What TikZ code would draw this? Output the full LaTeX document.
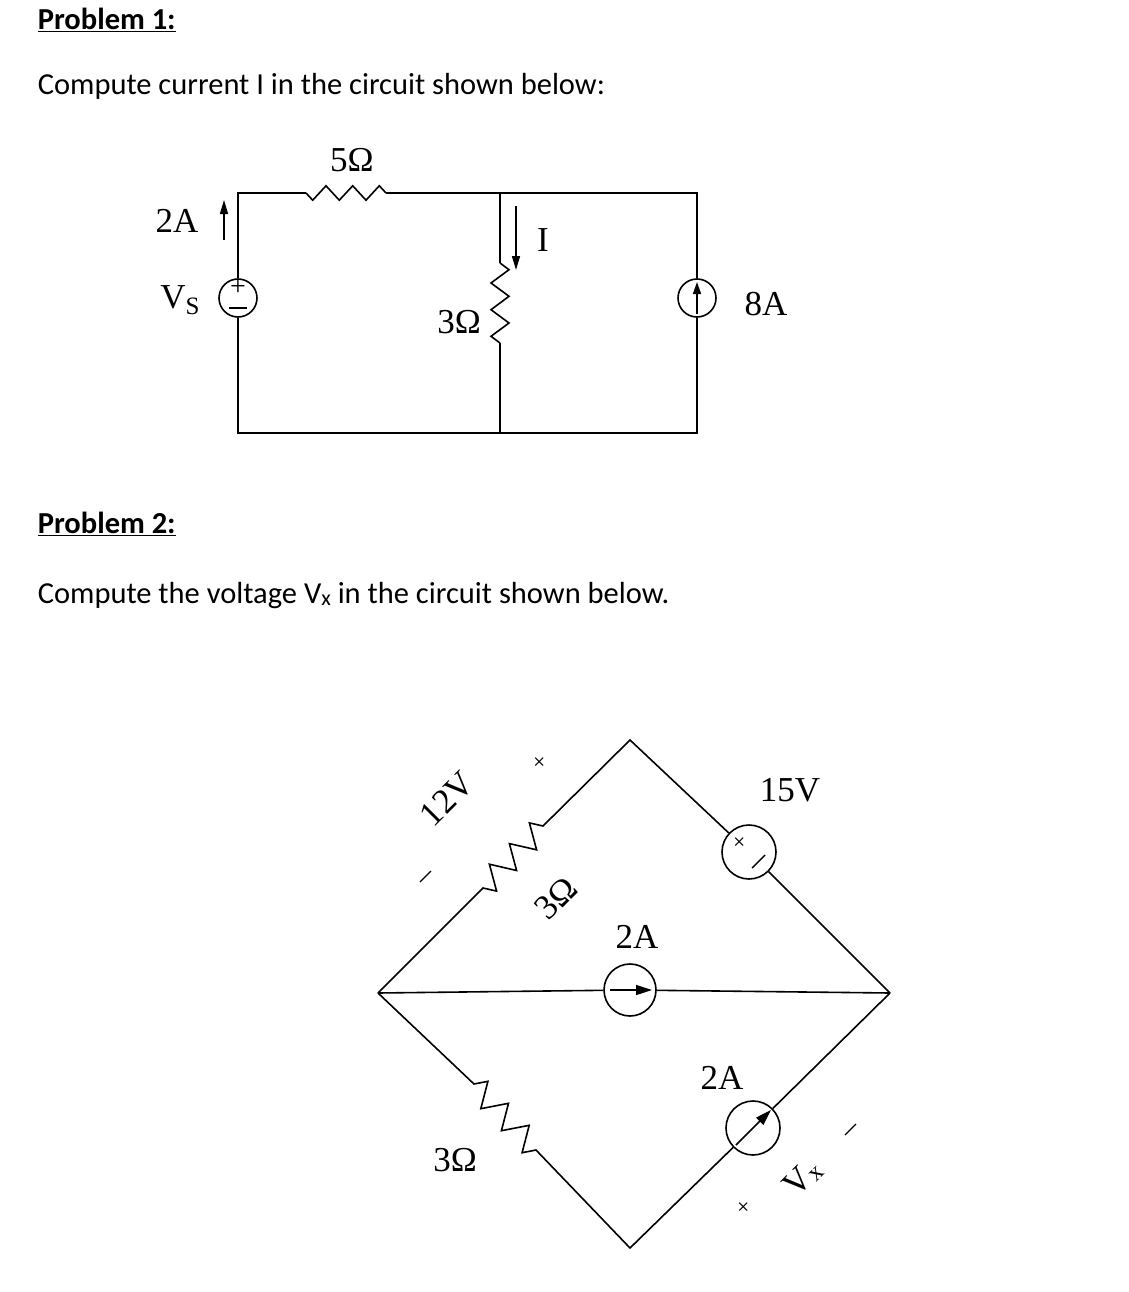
\documentclass[tikz,border=0pt]{standalone}
\usepackage{fontspec}
\setmainfont{Liberation Serif}
\newfontfamily\calfont{Carlito}
\usetikzlibrary{arrows.meta}
\begin{document}
\begin{tikzpicture}[x=1pt,y=-1pt,line width=1.6pt,line join=miter,
  zz/.pic={\draw[line width=1.6pt] (0,0) -- (6.7,9) -- (20,-9) -- (33.3,9) -- (46.7,-9) -- (60,9) -- (73.3,-9) -- (80,0);},
  src/.style={circle,draw,line width=1.6pt,minimum size=#1,inner sep=0pt},
  lab/.style={font=\fontsize{35}{35}\selectfont,inner sep=0pt},
  txt/.style={font=\calfont\fontsize{30.5}{30.5}\selectfont,anchor=west,inner sep=0pt},
  head/.style={font=\calfont\bfseries\fontsize{30.5}{30.5}\selectfont,anchor=west,inner sep=0pt}]
\useasboundingbox (0,0) rectangle (1128,1292);
\node[head] (h1) at (37,20) {\underline{Problem 1:}};
\node[txt] (t1) at (37,86) {Compute current I in the circuit shown below:};
\node[head] (h2) at (37,524) {\underline{Problem 2:}};
\node[txt] (t2) at (37,596) {Compute the voltage V\raisebox{-2pt}{\fontsize{22}{22}\selectfont x} in the circuit shown below.};
% Problem 1
\coordinate (tl) at (238,193); \coordinate (tm) at (500,193); \coordinate (tr) at (697,193);
\coordinate (bl) at (238,433); \coordinate (bm) at (500,433); \coordinate (br) at (697,433);
\coordinate (r5a) at (306,193); \coordinate (r5b) at (386,193);
\coordinate (r3a) at (500,263); \coordinate (r3b) at (500,343);
\node[src=38pt] (vs) at (238,298) {};
\node[src=38pt] (c8) at (697,298) {};
\draw (vs.north) -- (tl) -- (r5a);
\pic[yscale=0.8] at (r5a) {zz};
\draw (r5b) -- (tr) -- (c8.north);
\draw (c8.south) -- (br) -- (bl) -- (vs.south);
\draw (tm) -- (r3a);
\pic[rotate=-90,yscale=-1] at (r3a) {zz};
\draw (r3b) -- (bm);
\node[inner sep=0pt,font=\fontsize{28}{28}\selectfont] (pl) at (238,288) {+};
\draw[line width=1.8pt] (229,308) -- (247,308);
\draw[-{Triangle[length=12pt,width=8pt]},line width=1.5pt] (697,314) coordinate (c8a) -- (697,282);
\draw[-{Triangle[length=14pt,width=8pt]},line width=1.5pt] (224,240) coordinate (a2s) -- (224,200);
\draw[-{Triangle[length=14pt,width=8pt]},line width=1.5pt] (516,206) coordinate (ais) -- (516,270);
\node[lab] (l5) at (352,160) {5Ω};
\node[lab] (l2a) at (177,221) {2A};
\node[lab] (lvs) at (180,300) {V\raisebox{-6pt}{\fontsize{25}{25}\selectfont S}};
\node[lab] (l3) at (459,322) {3Ω};
\node[lab] (li) at (543,240) {I};
\node[lab] (l8) at (766,304) {8A};
% Problem 2
\coordinate (L) at (378,993); \coordinate (T) at (630,740); \coordinate (R) at (890,993); \coordinate (B) at (630,1248);
\coordinate (ra) at (483,888); \coordinate (rb) at (543,826);
\coordinate (sa) at (474,1084); \coordinate (sb) at (536,1150);
\node[src=52pt] (cs) at (630,990) {};
\node[src=54pt] (v15) at (749,852) {};
\node[src=54pt] (cb) at (753,1128) {};
\draw (L) -- (ra) -- (496.6,891.1) -- (489.4,864.2) -- (516.6,870.5) -- (509.4,843.6) -- (536.6,849.8) -- (529.4,822.9) -- (rb) -- (T) -- (v15);
\draw (v15) -- (R);
\draw (L) -- (cs) -- (R);
\draw (L) -- (sa) -- (487.9,1081.3) -- (480.8,1108.7) -- (508.5,1103.3) -- (501.4,1130.7) -- (529.2,1125.3) -- (522.1,1152.7) -- (sb) -- (B) -- (cb) -- (R);
\draw[-{Triangle[length=16pt,width=10pt]},line width=1.5pt] (610,990) coordinate (csa) -- (652,990);
\draw[-{Triangle[length=16pt,width=10pt]},line width=1.5pt] (736,1145) coordinate (cba) -- (771,1110);
\node[inner sep=0pt,rotate=45,font=\fontsize{24}{24}\selectfont] (vp) at (740,843) {+};
\draw[line width=1.4pt] (752,868) -- (765,855);
\node[lab] (l2a2) at (637,937) {2A};
\node[lab] (l15) at (790,790) {15V};
\node[lab,rotate=45] (l12) at (447,799) {12V};
\node[inner sep=0pt,rotate=45,font=\fontsize{24}{24}\selectfont] (pp) at (540,763) {+};
\draw[line width=1.3pt] (420,882) -- (431,871);
\node[lab,rotate=45] (l3b) at (556,898) {3Ω};
\node[lab] (l3c) at (455,1160) {3Ω};
\node[lab] (l2a3) at (722,1078) {2A};
\node[inner sep=0pt,rotate=45,font=\fontsize{24}{24}\selectfont] (xm) at (744,1208) {+};
\node[lab,rotate=45] (lvx) at (803,1178) {V\raisebox{-3pt}{\fontsize{25}{25}\selectfont x}};
\draw[line width=1.3pt] (845,1135) -- (856,1124);
\end{tikzpicture}
\end{document}
